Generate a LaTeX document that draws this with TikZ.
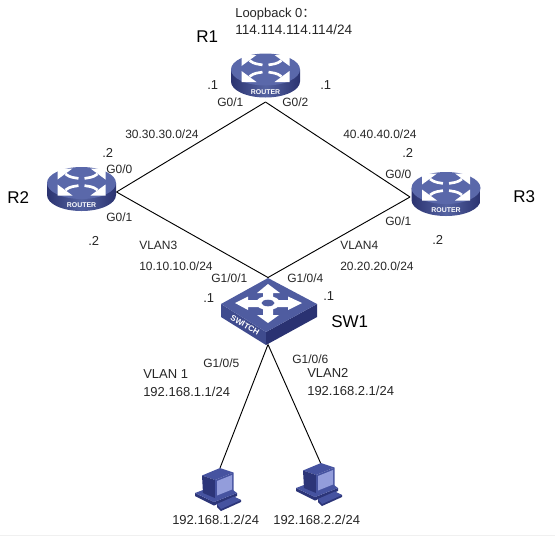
\documentclass[tikz,border=0pt]{standalone}
\usepackage{fontspec}
\setmainfont{Liberation Sans}
\newfontfamily\cjkfont{Noto Sans CJK SC}
\definecolor{topblue}{HTML}{5A68AA}
\definecolor{sidedark}{HTML}{2B3370}
\definecolor{sidemid}{HTML}{5563A2}
\definecolor{swtop}{HTML}{4F5CA0}
\definecolor{swleft}{HTML}{3F4B8E}
\definecolor{swright}{HTML}{2A3272}
\definecolor{pcscreen}{HTML}{939DDB}
\definecolor{pcmid}{HTML}{4653A0}
\definecolor{pcdark}{HTML}{2C3578}
\newcommand{\routerarm}[2]{%
  \begin{scope}[xscale=#1,yscale=#2]
    \fill[white] (24,-13.5) -- (9,-13.5) -- (24,-2.5) -- cycle;
    \draw[white,line width=2pt] (16,-8) .. controls (11,-4) and (7,-4.5) .. (3,-3.6);
  \end{scope}}
\tikzset{
  lbl/.style={anchor=west,inner sep=0pt,font=\fontsize{9.75pt}{11pt}\selectfont,text=black!85},
  sml/.style={anchor=west,inner sep=0pt,font=\fontsize{9pt}{11pt}\selectfont,text=black!85},
  big/.style={anchor=west,inner sep=0pt,font=\fontsize{12.75pt}{14pt}\selectfont},
  dev/.style={inner sep=0pt,outer sep=0pt,minimum width=#1*0.75pt},
  link/.style={draw=black,line width=0.7pt},
  router/.pic={
    \path[left color=sidedark,right color=sidedark,middle color=sidemid]
      (-34.5,0) -- (-34.5,12) .. controls (-34.5,21) and (-19,28) .. (0,28)
      .. controls (19,28) and (34.5,21) .. (34.5,12) -- (34.5,0) -- cycle;
    \fill[topblue] (0,0) ellipse [x radius=34.5,y radius=16];
    \begin{scope}[shift={(0,-1)}]
      \routerarm{1}{1}\routerarm{-1}{1}\routerarm{1}{-1}\routerarm{-1}{-1}
    \end{scope}
    \node (lab) [inner sep=0pt,text=white,font=\fontsize{5.2pt}{5pt}\selectfont\bfseries] at (0,22.5) {ROUTER};
  },
  pcicon/.pic={
    \fill[pcdark] (5,33) -- (24,42) -- (47,33) -- (47,36) -- (24,45.5) -- (5,36) -- cycle;
    \fill[pcmid] (5,33) -- (13,30) -- (43,30) -- (47,33) -- (24,42) -- cycle;
    \fill[pcdark] (27,44) -- (44,37) -- (51,40) -- (51,42) -- (31,51) -- (27,47) -- cycle;
    \fill[pcmid] (27,44) -- (44,36.5) -- (51,40) -- (31,49) -- cycle;
    \fill[pcmid] (12,15.5) -- (30,8) -- (43.5,12.5) -- (25,20) -- cycle;
    \fill[pcdark] (12,15.5) -- (25,20) -- (25,38) -- (13,33) -- cycle;
    \fill[pcmid] (25,20) -- (43.5,12.5) -- (43.5,31) -- (25,38) -- cycle;
    \fill[pcscreen] (27,21) -- (42,15) -- (42,29.5) -- (27,35.5) -- cycle;
  }
}
\begin{document}
\begin{tikzpicture}[x=0.75pt,y=-0.75pt]
\useasboundingbox (0,0) rectangle (555,536);
\fill[black!6] (0,534.5) rectangle (555,536);

% device anchors
\node[dev=70,minimum height=39.75pt] (R1) at (265.5,75.5) {};
\node[dev=70,minimum height=37.5pt] (R2) at (81.5,192) {};
\node[dev=72,minimum height=37.5pt] (R3) at (446,197) {};
\node[dev=96,minimum height=50.25pt] (SW) at (268,311) {};
\node[dev=50,minimum height=33pt] (PCa) at (220,490) {};
\node[dev=50,minimum height=33pt] (PCb) at (321,486) {};

% connectors
\draw[link] (R1.south) -- (R2.east);
\draw[link] (R1.south) -- (R3.west);
\draw[link] (R2.east) -- (SW.north);
\draw[link] (R3.west) -- (SW.north);
\draw[link] (SW.south) -- (PCa.north);
\draw[link] (SW.south) -- (PCb.north);

% routers
\pic (pr1) at (265.5,69.5) {router};
\pic (pr2) at (81.5,183) {router};
\pic (pr3) at (446,188) {router};

% switch
\fill[swleft] (221,304) -- (266,332) -- (266,345) -- (221,317) -- cycle;
\fill[swright] (266,332) -- (317,304) -- (317,317) -- (266,345) -- cycle;
\fill[swtop] (268,278) -- (317,304) -- (266,332) -- (221,304) -- cycle;
\fill[white] (268,284) -- (280,293) -- (273,293) -- (273,299) -- (263,299) -- (263,293) -- (257,293) -- cycle;
\fill[white] (268,323) -- (279,315) -- (273,315) -- (273,308) -- (263,308) -- (263,315) -- (257,315) -- cycle;
\fill[white] (235,303) -- (248,296.5) -- (248,300) -- (258,300) -- (258,307) -- (248,307) -- (248,310) -- cycle;
\fill[white] (302,303) -- (288,296.5) -- (288,300) -- (278,300) -- (278,307) -- (288,307) -- (288,310) -- cycle;
\fill[white] (268,303) ellipse [x radius=12,y radius=7];
\fill[swtop] (268,303) ellipse [x radius=6.5,y radius=3.3];
\node (swlab) [inner sep=0pt,text=white,rotate=-30,font=\fontsize{6pt}{6pt}\selectfont\bfseries] at (245,325) {SWITCH};

% computers
\pic (pc1) at (190,460) {pcicon};
\pic (pc2) at (291,455) {pcicon};

% labels
\node[lbl] (t01) at (235,14) {Loopback 0{\cjkfont ：}};
\node[lbl,font=\fontsize{10.2pt}{11pt}\selectfont] (t02) at (235,30) {114.114.114.114/24};
\node[big] (t03) at (196,37) {R1};
\node[lbl] (t04) at (207,85) {.1};
\node[lbl] (t05) at (320,85) {.1};
\node[sml] (t06) at (217,102) {G0/1};
\node[sml] (t07) at (282,102) {G0/2};
\node[sml] (t08) at (125,134) {30.30.30.0/24};
\node[sml] (t09) at (343,134) {40.40.40.0/24};
\node[lbl] (t10) at (102,153) {.2};
\node[sml] (t11) at (106,169) {G0/0};
\node[big] (t12) at (7,198) {R2};
\node[sml] (t13) at (106,217) {G0/1};
\node[lbl] (t14) at (88,241) {.2};
\node[sml] (t15) at (139,245) {VLAN3};
\node[sml] (t16) at (139,266) {10.10.10.0/24};
\node[sml] (t17) at (211,278) {G1/0/1};
\node[sml] (t18) at (287,278) {G1/0/4};
\node[lbl] (t19) at (203,298) {.1};
\node[lbl] (t20) at (323,296) {.1};
\node[lbl] (t21) at (402,153) {.2};
\node[sml] (t22) at (385,174) {G0/0};
\node[sml] (t23) at (385,221) {G0/1};
\node[lbl] (t24) at (432,240) {.2};
\node[big] (t25) at (513,197) {R3};
\node[sml] (t26) at (340,245) {VLAN4};
\node[sml] (t27) at (340,266) {20.20.20.0/24};
\node[big] (t28) at (331,322) {SW1};
\node[sml] (t29) at (203,363) {G1/0/5};
\node[sml] (t30) at (292,359) {G1/0/6};
\node[lbl] (t31) at (143,374) {VLAN 1};
\node[lbl] (t32) at (143,392) {192.168.1.1/24};
\node[lbl] (t33) at (307,373) {VLAN2};
\node[lbl] (t34) at (307,391) {192.168.2.1/24};
\node[lbl] (t35) at (172,520) {192.168.1.2/24};
\node[lbl] (t36) at (273,520) {192.168.2.2/24};
\end{tikzpicture}
\end{document}
